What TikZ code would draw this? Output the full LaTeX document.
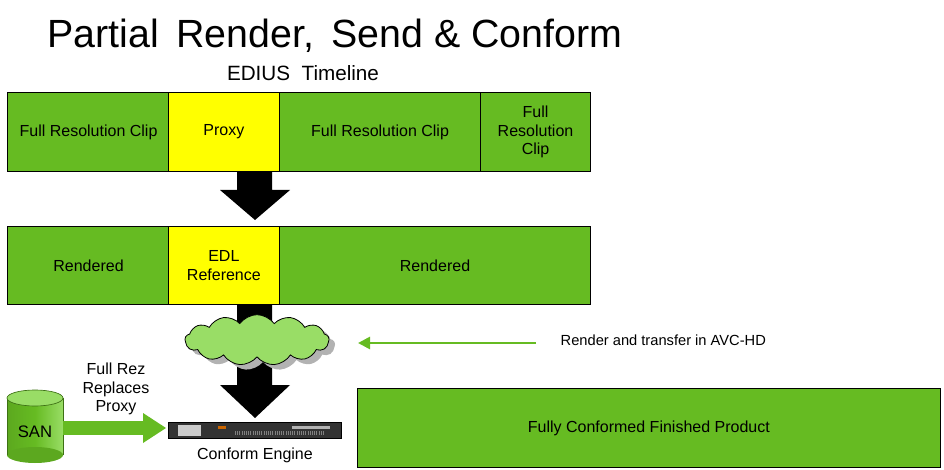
\documentclass[tikz,border=0pt]{standalone}
\usepackage{fontspec}
\setmainfont{Liberation Sans}
\usetikzlibrary{shapes.symbols,shapes.geometric,arrows.meta}
\definecolor{g}{HTML}{66BB22}
\definecolor{y}{HTML}{FFFF00}
\definecolor{lg}{HTML}{99DD66}
\tikzset{cell/.style={draw=black,line width=0.8pt,align=center,font=\fontsize{12}{14}\selectfont,inner sep=0pt},
blk/.style={fill=black,draw=none}}
\begin{document}
\begin{tikzpicture}[x=0.75pt,y=-0.75pt]
\useasboundingbox (0,0) rectangle (944,470);
\node (title) at (335,36) {\fontsize{29.5}{32}\selectfont Partial\ \,Render,\ \,Send\ \&\ Conform};
\node (tl) at (303,73) {\fontsize{15.5}{18}\selectfont EDIUS\ \ Timeline};
% arrows behind
\fill[blk] (237,171) -- (272,171) -- (272,190) -- (290,190) -- (255,220) -- (220,190) -- (237,190) -- cycle;
\fill[blk] (237,304) -- (272,304) -- (272,385) -- (290,385) -- (255,418) -- (220,385) -- (237,385) -- cycle;
% row 1
\node[cell,fill=g,minimum width=121.5pt,minimum height=59pt,anchor=north west] (a1) at (7,92) {Full Resolution Clip};
\node[cell,fill=y,minimum width=83pt,minimum height=59pt,anchor=north west] (a2) at (168,92) {Proxy};
\node[cell,fill=g,minimum width=150.75pt,minimum height=59pt,anchor=north west] (a3) at (279,92) {Full Resolution Clip};
\node[cell,fill=g,minimum width=82.5pt,minimum height=59pt,anchor=north west] (a4) at (480,92) {Full\\Resolution\\Clip};
% row 2
\node[cell,fill=g,minimum width=121.5pt,minimum height=58.5pt,anchor=north west] (b1) at (7,226) {Rendered};
\node[cell,fill=y,minimum width=83pt,minimum height=58.5pt,anchor=north west] (b2) at (168,226) {EDL\\Reference};
\node[cell,fill=g,minimum width=233.25pt,minimum height=58.5pt,anchor=north west] (b3) at (279,226) {Rendered};
% cloud
\node[cloud,cloud puffs=13,cloud puff arc=110,aspect=3.2,fill=gray!60,minimum width=108pt,minimum height=38pt] (cs) at (263,345) {};
\node[cloud,cloud puffs=13,cloud puff arc=110,aspect=3.2,fill=lg,draw=black,line width=0.6pt,minimum width=108pt,minimum height=38pt] (cloud) at (257,340) {};
% render text
\node[anchor=west,font=\fontsize{11}{13}\selectfont] (rt) at (556,340) {Render and transfer in AVC-HD};
\coordinate (rs) at (536,343);
\draw[g,line width=2pt,-{Triangle[length=9pt,width=9pt]}] (rs) -- (358,343);
% SAN
\shade[left color=g!90!black,right color=lg,middle color=g] (7,398) rectangle (63,455);
\fill[g!90!black] (35,455) ellipse (21pt and 6pt);
\draw[g!60!black,line width=0.5pt] (7,398) -- (7,455) (63,398) -- (63,455);
\fill[lg,draw=g!60!black,line width=0.5pt] (35,398) ellipse (21pt and 6pt);
\node (san) at (35,432) {\fontsize{12.5}{14}\selectfont SAN};
% server
\node[draw=black,fill=black!80,minimum width=130pt,minimum height=12pt,inner sep=0pt,anchor=north west] (srv) at (168,422) {};
\fill[white!80!black] (178,425) rectangle (201,436);
\fill[black!20] (182,427) rectangle (196,434);
\fill[orange!80!black] (218,426) rectangle (226,429);
\foreach \i in {0,...,40}{\fill[gray] (235+2.2*\i,431) rectangle (236+2.2*\i,435);}
\fill[gray!60] (292,426) rectangle (330,429);
\draw[g,line width=11pt] (63,428) -- (145,428);
\fill[g] (143,413) -- (166,428) -- (143,443) -- cycle;
\node[align=center,font=\fontsize{12}{14}\selectfont] (lbl) at (116,389) {Full Rez\\Replaces\\Proxy};
\node[font=\fontsize{12}{14}\selectfont] (ce) at (255,455) {Conform Engine};
% final
\node[cell,fill=g,minimum width=437pt,minimum height=59pt,anchor=north west] (fin) at (357,388) {Fully Conformed Finished Product};
\end{tikzpicture}
\end{document}
